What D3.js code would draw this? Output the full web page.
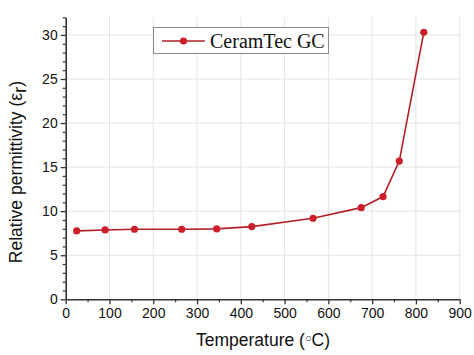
<!DOCTYPE html>
<html><head><meta charset="utf-8">
<script src="https://cdn.jsdelivr.net/npm/d3@7"></script>
<style>body{margin:0;background:#fff}svg{display:block}</style>
</head><body>
<svg id="c" width="474" height="355"></svg>
<script>
const temperature = [25, 90, 157, 265, 345, 425, 565, 675, 725, 762, 818];
const permittivity = [7.76, 7.87, 7.95, 7.95, 7.99, 8.25, 9.2, 10.4, 11.66, 15.68, 30.3];
const xTicks = [0,100,200,300,400,500,600,700,800,900];
const yTicks = [0,5,10,15,20,25,30];
const seriesName = "CeramTec GC";

const svg = d3.select("#c");
const m = {l:65.7, r:14.3, t:17.3, b:55.7};
const W = 474, H = 355;
const x = d3.scaleLinear().domain([0,900]).range([m.l, W-m.r]);
const y = d3.scaleLinear().domain([0,32]).range([H-m.b, m.t]);

// grid
svg.append("g").selectAll("line").data(xTicks.filter(d=>d>0)).join("line")
  .attr("x1",d=>x(d)).attr("x2",d=>x(d)).attr("y1",y(0)).attr("y2",y(32))
  .attr("stroke","#e4e4e4").attr("stroke-width",1);
svg.append("g").selectAll("line").data(yTicks.filter(d=>d>0)).join("line")
  .attr("x1",x(0)).attr("x2",x(900)).attr("y1",d=>y(d)).attr("y2",d=>y(d))
  .attr("stroke","#e4e4e4").attr("stroke-width",1);

// minor ticks
const xMinor = d3.range(50,900,100);
const yMinor = d3.range(0,33,1).filter(d=>d%5!==0);
svg.append("g").attr("transform",`translate(0,${y(0)})`)
  .call(d3.axisBottom(x).tickValues(xMinor).tickSize(3).tickFormat(""))
  .call(g=>g.select(".domain").remove())
  .selectAll("line").attr("stroke","#333").attr("stroke-width",1.2);
svg.append("g").attr("transform",`translate(${x(0)},0)`)
  .call(d3.axisLeft(y).tickValues(yMinor).tickSize(3).tickFormat(""))
  .call(g=>g.select(".domain").remove())
  .selectAll("line").attr("stroke","#333").attr("stroke-width",1.2);

// axes
const xa = svg.append("g").attr("transform",`translate(0,${y(0)})`)
  .call(d3.axisBottom(x).tickValues(xTicks).tickSize(5).tickSizeOuter(0).tickPadding(4));
const ya = svg.append("g").attr("transform",`translate(${x(0)},0)`)
  .call(d3.axisLeft(y).tickValues(yTicks).tickSize(5).tickSizeOuter(0).tickPadding(3));
[xa,ya].forEach(a=>{
  a.select(".domain").attr("stroke","#333").attr("stroke-width",1.6);
  a.selectAll(".tick line").attr("stroke","#333").attr("stroke-width",1.3);
  a.selectAll("text").attr("font-family","Liberation Sans, Arial, sans-serif")
    .attr("font-size",14).attr("fill","#111");
});

// line + markers
const line = d3.line().x((d,i)=>x(temperature[i])).y(d=>y(d));
svg.append("path").datum(permittivity).attr("d",line)
  .attr("fill","none").attr("stroke","#b0202a").attr("stroke-width",1.6);
svg.append("g").selectAll("circle").data(permittivity).join("circle")
  .attr("cx",(d,i)=>x(temperature[i])).attr("cy",d=>y(d)).attr("r",3.6)
  .attr("fill","#cc1f2a");

// axis titles
svg.append("text").attr("x",263).attr("y",346).attr("text-anchor","middle")
  .attr("font-family","Liberation Sans, Arial, sans-serif").attr("font-size",17.5).attr("fill","#111")
  .html('Temperature (<tspan font-size="11" dy="-4">○</tspan><tspan dy="4">C)</tspan>');
svg.append("text").attr("transform","translate(22,172) rotate(-90)").attr("text-anchor","middle")
  .attr("font-family","Liberation Sans, Arial, sans-serif").attr("font-size",17.5).attr("fill","#111")
  .html('Relative permittivity (ε<tspan dy="4" font-size="19">r</tspan><tspan dy="-4">)</tspan>');

// legend
svg.append("rect").attr("x",153.5).attr("y",27.5).attr("width",175).attr("height",26)
  .attr("fill","#fff").attr("stroke","#8a8a8a").attr("stroke-width",1);
svg.append("line").attr("x1",162).attr("x2",205).attr("y1",41).attr("y2",41)
  .attr("stroke","#b0202a").attr("stroke-width",1.6);
svg.append("circle").attr("cx",183.5).attr("cy",41).attr("r",3.6).attr("fill","#cc1f2a");
svg.append("text").attr("x",210).attr("y",48).text(seriesName)
  .attr("font-family","Liberation Serif, Times New Roman, serif").attr("font-size",20).attr("fill","#111");
</script>
</body></html>
